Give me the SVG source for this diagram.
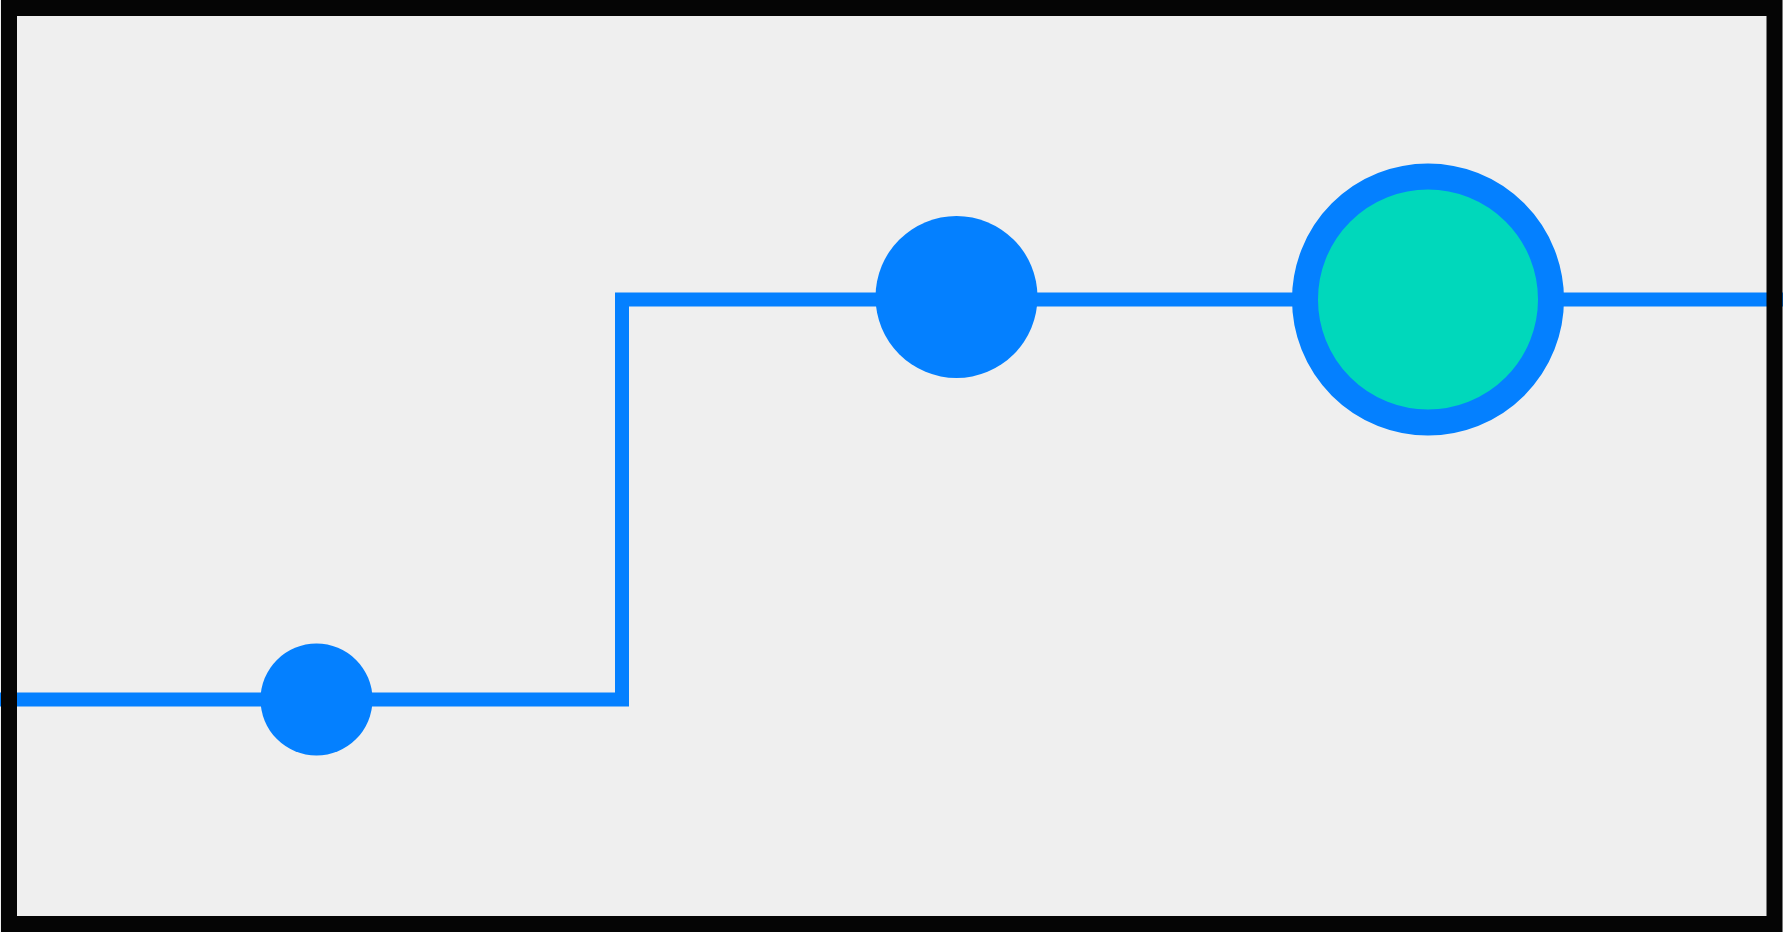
<svg xmlns="http://www.w3.org/2000/svg" width="1783" height="932" viewBox="0 0 1783 932">
<style>
.wire{fill:none;stroke:#0480FF;stroke-width:14}
.dot{fill:#0480FF}
.ring{fill:#00D8BB;stroke:#0480FF;stroke-width:26}
</style>
<rect x="0" y="0" width="1783" height="932" fill="#EFEFEF"/>
<g id="connectors">
<polyline class="wire" points="0,699.5 622,699.5 622,299.5 1783,299.5"/>
</g>
<g id="node1"><circle class="dot" cx="316.5" cy="699.5" r="56"/></g>
<g id="node2"><circle class="dot" cx="956.5" cy="297" r="81"/></g>
<g id="node3"><circle class="ring" cx="1428" cy="299.5" r="123"/></g>
<rect x="9" y="8" width="1765.5" height="916" fill="none" stroke="#050505" stroke-width="16"/>
</svg>
